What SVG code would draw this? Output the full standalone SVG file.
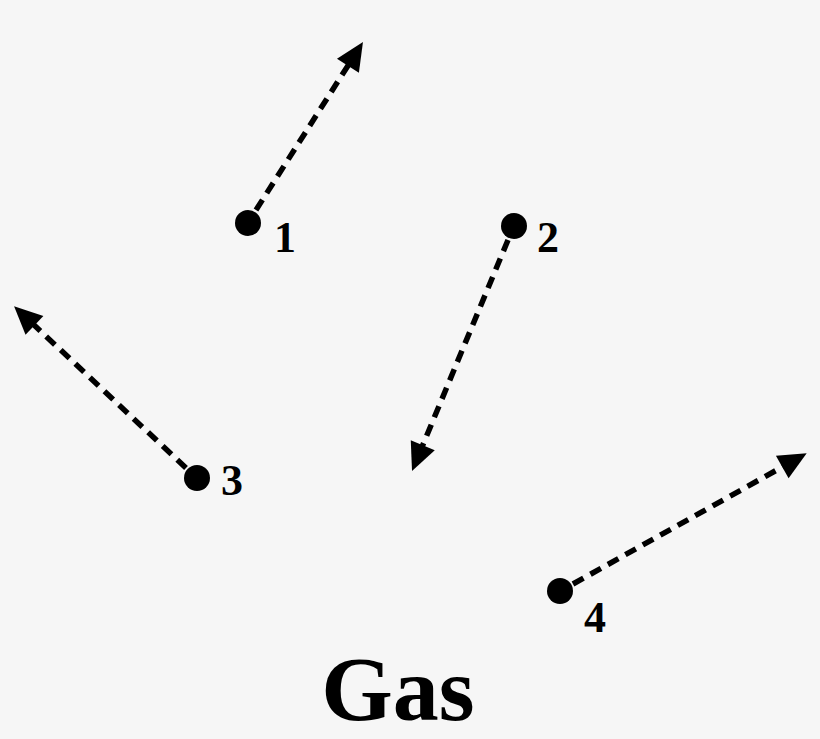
<svg xmlns="http://www.w3.org/2000/svg" width="820" height="739" viewBox="0 0 820 739">
<style>
.dash{stroke:#000;stroke-width:5.5;stroke-dasharray:12 8;fill:none;marker-end:url(#ah)}
.dot{fill:#000}
.lbl{font-family:"Liberation Serif","Times New Roman",serif;font-weight:bold;font-size:44px;fill:#000}
.title{font-family:"Liberation Serif","Times New Roman",serif;font-weight:bold;font-size:92px;fill:#000}
</style>
<defs>
<marker id="ah" markerUnits="userSpaceOnUse" markerWidth="30" markerHeight="28" refX="2" refY="14" orient="auto" overflow="visible">
<path d="M0,1 L28,14 L0,27 z" fill="#000"/>
</marker>
</defs>
<rect width="820" height="739" fill="#f6f6f6"/>
<g id="connectors">
<line class="dash" x1="256" y1="210" x2="349" y2="64"/>
<line class="dash" x1="508" y1="240" x2="422" y2="447"/>
<line class="dash" x1="186" y1="468" x2="33" y2="324"/>
<line class="dash" x1="573" y1="584" x2="784" y2="466"/>
</g>
<g id="p1"><circle class="dot" cx="248" cy="223" r="13"/><text class="lbl" x="274" y="252">1</text></g>
<g id="p2"><circle class="dot" cx="514" cy="226" r="13"/><text class="lbl" x="537" y="252">2</text></g>
<g id="p3"><circle class="dot" cx="197" cy="478" r="13"/><text class="lbl" x="221" y="495">3</text></g>
<g id="p4"><circle class="dot" cx="560" cy="591" r="13"/><text class="lbl" x="584" y="632">4</text></g>
<g id="title"><text class="title" x="398" y="720" text-anchor="middle">Gas</text></g>
</svg>
